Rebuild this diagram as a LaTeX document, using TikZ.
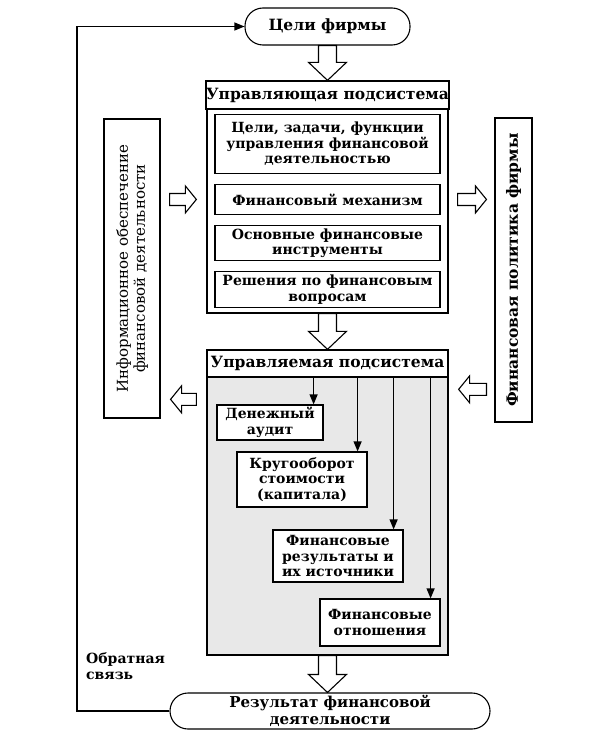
\documentclass[tikz,border=0pt]{standalone}
\usepackage{fontspec}
\setmainfont{DejaVu Serif}
\usetikzlibrary{arrows.meta,calc,positioning}

\tikzset{
  subsys/.style={draw, line width=1.3pt},
  hdr/.style={draw, line width=1.3pt, fill=white, inner sep=0pt, font={\bfseries\fontsize{15.5}{17}\selectfont}},
  item/.style={draw, line width=1.2pt, fill=white, align=center, inner sep=0pt, font={\bfseries\fontsize{14}{15.5}\selectfont}},
  pill/.style={draw, line width=1.1pt, rounded corners=18pt, align=center, inner sep=0pt, font={\bfseries\fontsize{15.5}{17}\selectfont}},
  side/.style={draw, line width=1.1pt, rotate=90, align=center, inner sep=0pt},
  flow/.style={line width=1.2pt, -{Triangle[length=10pt,width=8pt]}},
  block down/.style={line width=1.1pt, to path={let \p1=(\tikztostart), \p2=(\tikztotarget) in
    (\x1-\vsw,\y1) -- (\x1-\vsw,\y2+\vhl) -- (\x1-\vhw,\y2+\vhl) -- (\x1,\y2)
    -- (\x1+\vhw,\y2+\vhl) -- (\x1+\vsw,\y2+\vhl) -- (\x1+\vsw,\y1) -- cycle}},
  block right/.style={line width=1.1pt, to path={let \p1=(\tikztostart), \p2=(\tikztotarget) in
    (\x1,\y1-\hsw) -- (\x2-\hhl,\y1-\hsw) -- (\x2-\hhl,\y1-\hhw) -- (\x2,\y1)
    -- (\x2-\hhl,\y1+\hhw) -- (\x2-\hhl,\y1+\hsw) -- (\x1,\y1+\hsw) -- cycle}},
  block left/.style={line width=1.1pt, to path={let \p1=(\tikztostart), \p2=(\tikztotarget) in
    (\x1,\y1-\hsw) -- (\x2+\hhl,\y1-\hsw) -- (\x2+\hhl,\y1-\hhw) -- (\x2,\y1)
    -- (\x2+\hhl,\y1+\hhw) -- (\x2+\hhl,\y1+\hsw) -- (\x1,\y1+\hsw) -- cycle}},
}

\begin{document}
\begin{tikzpicture}[x=1pt, y=-1pt]
    % page, 591 x 749
    \useasboundingbox (0,0) rectangle (591,749);
    % hollow arrow sizes (vertical / horizontal)
    \def\vsw{9pt}
    \def\vhw{19pt}
    \def\vhl{18pt}
    \def\hsw{6pt}
    \def\hhw{13.5pt}
    \def\hhl{11pt}

    % Top and bottom
    \node[pill, minimum width=165, minimum height=37] (goals) at (327.5,26.5) {Цели фирмы};
    \node[pill, minimum width=320, minimum height=36, font={\bfseries\fontsize{15}{16.5}\selectfont}] (result) at (330,711) {Результат финансовой\\деятельности};

    % Managing subsystem
    \node[subsys, minimum width=241, minimum height=232] (ctrl) at (327.5,197) {};
    \node[hdr, minimum width=241, minimum height=28, anchor=north] (chdr) at (ctrl.north) {Управляющая подсистема};
    \node[item, minimum width=225, minimum height=59, below=4pt of chdr] (aims) {Цели, задачи, функции\\управления финансовой\\деятельностью};
    \node[item, minimum width=225, minimum height=30, below=10pt of aims] (mech) {Финансовый механизм};
    \node[item, minimum width=225, minimum height=35, below=10pt of mech] (tools) {Основные финансовые\\инструменты};
    \node[item, minimum width=225, minimum height=36, below=10pt of tools] (dec) {Решения по финансовым\\вопросам};

    % Managed subsystem
    \node[subsys, fill=black!9, minimum width=241, minimum height=305] (mgd) at (327.5,502.5) {};
    \node[hdr, minimum width=241, minimum height=27, anchor=north] (mhdr) at (mgd.north) {Управляемая подсистема};
    \node[item, minimum width=106, minimum height=35] (audit) at (270,422.5) {Денежный\\аудит};
    \node[item, minimum width=130, minimum height=55] (circ) at (302,479.5) {Кругооборот\\стоимости\\(капитала)};
    \node[item, minimum width=130, minimum height=52] (fres) at (338,556) {Финансовые\\результаты и\\их источники};
    \node[item, minimum width=120, minimum height=47] (frel) at (380,622.5) {Финансовые\\отношения};
    \foreach \b in {audit,circ,fres,frel}
      \draw[flow] ([xshift=-10pt]\b.north east |- mhdr.south) -- ([xshift=-10pt]\b.north east);

    % Side boxes (rotated: south = right side, north = left side)
    \node[side, minimum width=299, minimum height=56, font={\fontsize{15}{17}\selectfont}] (info) at (132,268.5) {Информационное обеспечение\\финансовой деятельности};
    \node[side, minimum width=304, minimum height=37, font={\bfseries\fontsize{15.5}{17}\selectfont}] (policy) at (513.5,270) {Финансовая политика фирмы};

    % Hollow arrows
    \draw[block down] (goals.south) to (ctrl.north);
    \draw[block down] (ctrl.south) to (mgd.north);
    \draw[block down] (mgd.south) to (result.north);
    \draw[block right] ($(info.south |- mech.west)+(9,0)$) to ($(ctrl.west |- mech.west)+(-10,0)$);
    \draw[block right] ($(ctrl.east |- mech.east)+(9,0)$) to ($(policy.north |- mech.east)+(-8,0)$);
    \draw[block left] ($(mgd.north west)+(-10,50)$) to ($(info.south |- mgd.north west)+(10,50)$);
    \draw[block left] ($(policy.north |- mgd.north east)+(-8,40)$) to ($(mgd.north east)+(10,40)$);

    % Feedback
    \coordinate (fbcorner) at (77,711);
    \draw[flow] (result.west) -- (fbcorner) |- (goals.west);
    \node[anchor=west, align=left, inner sep=0pt, font={\bfseries\fontsize{14}{15.5}\selectfont}] (fblabel) at (86,666) {Обратная\\связь};
\end{tikzpicture}
\end{document}
